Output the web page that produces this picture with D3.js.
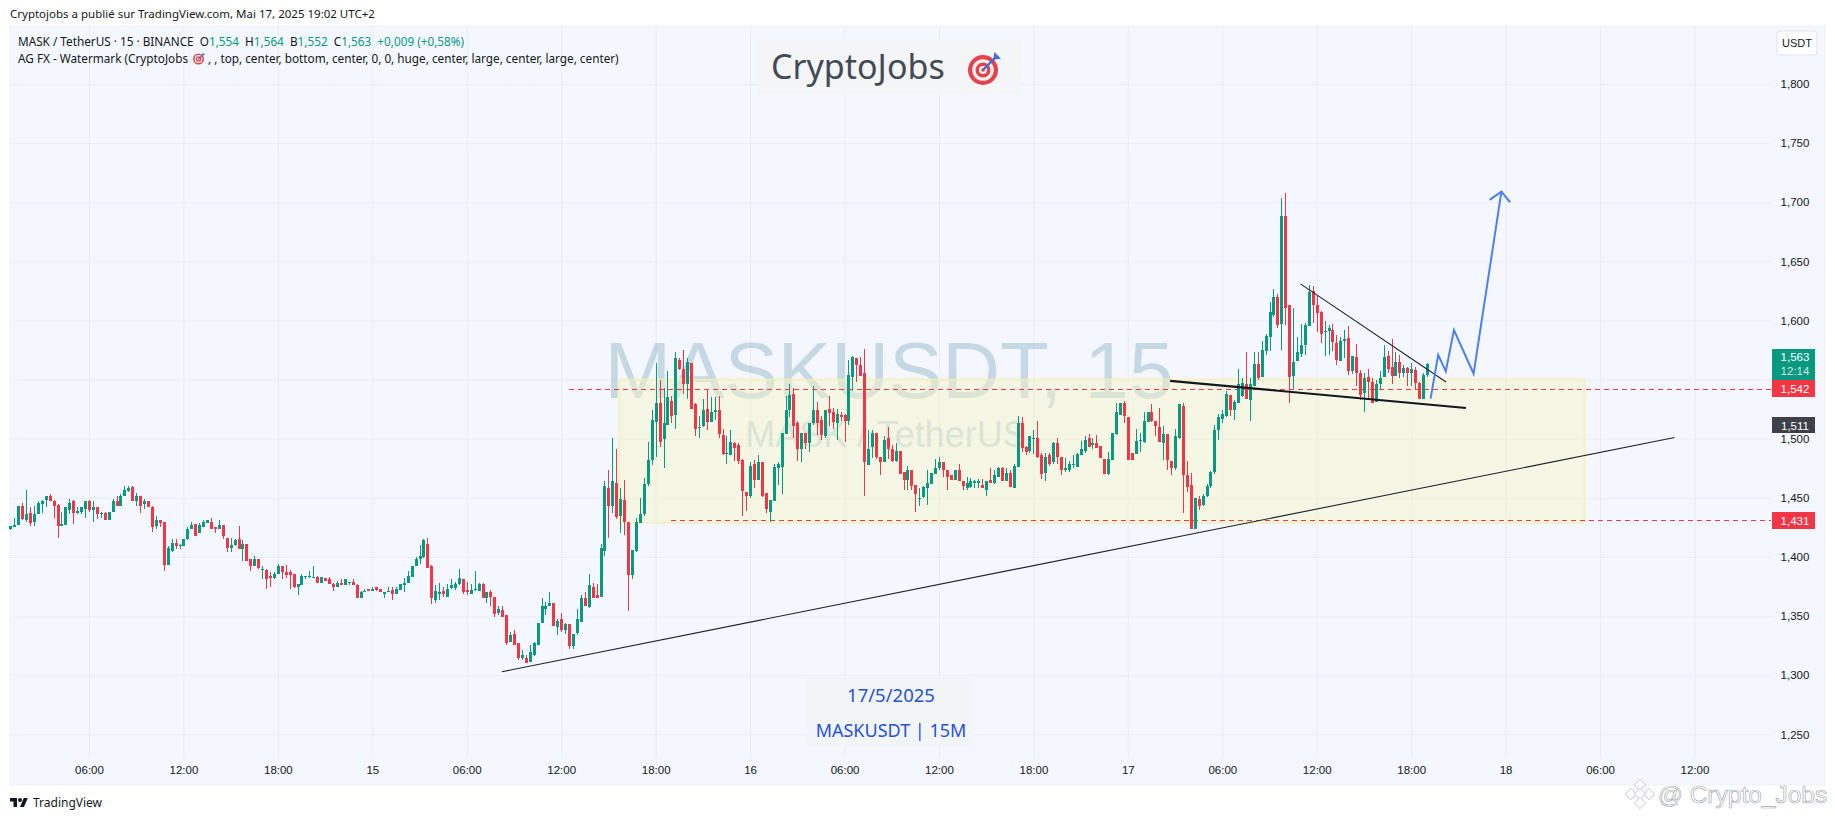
<!DOCTYPE html>
<html>
<head>
<meta charset="utf-8">
<script src="https://cdn.jsdelivr.net/npm/d3@7"></script>
<style>
  html, body { margin: 0; padding: 0; background: #fff; }
  svg { display: block; }
  text { font-family: "Noto Sans", sans-serif; fill: #131722; }
  .axis text { font-family: "Liberation Sans", sans-serif; font-size: 11.5px; }
  .axis .domain { display: none; }
</style>
</head>
<body>
<div id="chart"></div>
<script>
// 15 minute candles from 14 May 2025 01:00 (price x 1000)
var firstCandle = "2025-05-14T01:00Z";

var opens = [
  1424,1425,1427,1443,1431,1437,1430,1436,1445,1448, 1452,1447,1444,1426,1427,1440,1447,1437,1438,1441,
  1447,1440,1442,1436,1437,1431,1438,1447,1443,1452, 1456,1459,1447,1452,1445,1447,1442,1426,1431,1430,
  1393,1405,1412,1409,1409,1415,1424,1428,1420,1425, 1429,1430,1425,1424,1427,1416,1408,1410,1415,1407,
  1411,1398,1392,1398,1389,1389,1384,1382,1386,1392, 1387,1387,1386,1375,1376,1383,1383,1382,1383,1378,
  1382,1381,1377,1375,1378,1376,1378,1379,1376,1365, 1370,1373,1371,1375,1373,1369,1370,1372,1369,1372,
  1376,1378,1383,1392,1398,1400,1411,1392,1364,1369, 1371,1366,1374,1374,1377,1381,1372,1369,1372,1371,
  1377,1365,1370,1366,1353,1355,1351,1328,1335,1327, 1315,1315,1311,1317,1326,1344,1356,1359,1361,1341,
  1348,1338,1343,1325,1336,1345,1365,1358,1375,1368, 1366,1405,1458,1443,1463,1435,1448,1430,1385,1405,
  1429,1436,1462,1482,1514,1530,1500,1512,1532,1520, 1567,1559,1546,1564,1529,1509,1511,1525,1514,1523,
  1524,1503,1487,1486,1496,1495,1482,1455,1452,1479, 1465,1480,1454,1438,1447,1475,1476,1504,1524,1538,
  1513,1491,1505,1496,1513,1524,1516,1502,1525,1523, 1513,1520,1520,1515,1552,1568,1562,1556,1478,1493,
  1505,1485,1480,1501,1491,1481,1490,1472,1465,1474, 1461,1449,1451,1458,1462,1470,1475,1480,1474,1469,
  1465,1474,1464,1458,1459,1463,1463,1461,1457,1465, 1463,1468,1475,1464,1471,1458,1476,1513,1493,1490,
  1500,1501,1486,1471,1486,1480,1496,1485,1474,1474, 1478,1476,1486,1490,1501,1495,1496,1494,1483,1470,
  1482,1504,1520,1530,1518,1488,1487,1498,1497,1514, 1523,1515,1510,1496,1504,1481,1475,1501,1528,1469,
  1461,1424,1449,1444,1452,1460,1472,1507,1517,1519, 1537,1524,1530,1536,1546,1533,1545,1563,1552,1574,
  1586,1605,1620,1597,1688,1613,1553,1566,1572,1579, 1595,1625,1613,1607,1590,1591,1592,1581,1566,1583,
  1585,1557,1569,1556,1539,1552,1548,1531,1546,1552, 1570,1561,1553,1565,1556,1560,1556,1558,1547,1534,1554
];

var highs = [
  1426,1433,1443,1446,1457,1442,1443,1447,1448,1452, 1453,1448,1445,1438,1442,1449,1448,1442,1442,1447,
  1448,1447,1442,1438,1438,1438,1449,1452,1453,1460, 1460,1460,1454,1452,1449,1447,1443,1435,1431,1430,
  1409,1415,1415,1411,1415,1425,1430,1428,1429,1431, 1431,1433,1425,1431,1427,1416,1416,1415,1426,1414,
  1411,1398,1401,1398,1392,1390,1387,1387,1394,1392, 1393,1389,1386,1377,1386,1384,1388,1392,1384,1383,
  1382,1383,1378,1380,1381,1381,1379,1381,1377,1371, 1373,1373,1375,1375,1373,1370,1375,1375,1375,1377,
  1382,1388,1392,1400,1410,1415,1416,1393,1376,1378, 1375,1377,1381,1379,1390,1381,1379,1377,1388,1378,
  1378,1370,1372,1366,1359,1359,1351,1337,1338,1327, 1321,1317,1326,1328,1344,1365,1362,1370,1361,1348,
  1353,1344,1343,1335,1356,1368,1370,1386,1378,1377, 1411,1464,1474,1501,1491,1458,1465,1430,1406,1433,
  1450,1467,1497,1524,1564,1550,1543,1557,1536,1573, 1568,1575,1568,1564,1530,1519,1534,1542,1535,1535,
  1536,1508,1502,1507,1497,1496,1483,1455,1480,1482, 1486,1480,1454,1448,1479,1480,1505,1536,1546,1543,
  1515,1505,1505,1513,1545,1531,1519,1524,1536,1526, 1525,1523,1521,1567,1570,1568,1569,1576,1507,1507,
  1505,1485,1502,1510,1495,1496,1490,1472,1477,1474, 1461,1458,1460,1474,1471,1483,1485,1480,1474,1469,
  1474,1479,1464,1468,1467,1465,1466,1466,1464,1475, 1474,1476,1476,1475,1474,1479,1519,1518,1494,1502,
  1507,1515,1488,1488,1488,1497,1501,1485,1484,1481, 1486,1488,1498,1502,1504,1501,1503,1494,1483,1489,
  1505,1530,1530,1532,1518,1488,1508,1505,1523,1523, 1529,1515,1526,1511,1504,1481,1508,1529,1530,1481,
  1471,1450,1452,1453,1462,1473,1512,1521,1524,1540, 1537,1533,1559,1551,1573,1551,1573,1573,1583,1589,
  1616,1627,1622,1704,1708,1613,1611,1586,1597,1598, 1630,1629,1621,1608,1600,1596,1597,1588,1586,1592,
  1595,1570,1580,1558,1556,1559,1551,1550,1557,1579, 1574,1584,1573,1571,1562,1561,1564,1561,1548,1556,1564
];

var lows = [
  1423,1425,1427,1431,1430,1426,1426,1436,1437,1442, 1447,1433,1416,1426,1427,1436,1428,1436,1436,1433,
  1438,1430,1432,1433,1431,1431,1438,1443,1443,1452, 1455,1447,1443,1437,1441,1442,1421,1424,1425,1388,
  1393,1404,1407,1407,1409,1414,1424,1418,1420,1425, 1429,1424,1420,1424,1415,1404,1404,1409,1407,1397,
  1397,1388,1392,1390,1381,1373,1375,1381,1386,1381, 1382,1373,1374,1368,1376,1381,1382,1382,1378,1378,
  1380,1377,1371,1375,1376,1376,1376,1376,1365,1365, 1370,1371,1371,1371,1370,1365,1370,1364,1369,1372,
  1370,1378,1383,1392,1394,1399,1391,1360,1361,1364, 1366,1366,1373,1372,1376,1369,1368,1369,1371,1371,
  1365,1361,1359,1349,1351,1349,1326,1328,1326,1313, 1313,1310,1311,1316,1326,1344,1351,1359,1342,1334,
  1337,1335,1322,1322,1334,1345,1359,1357,1365,1365, 1366,1401,1416,1437,1432,1420,1419,1354,1381,1404,
  1429,1435,1460,1478,1485,1493,1475,1512,1513,1508, 1558,1538,1534,1525,1502,1501,1510,1507,1514,1516,
  1501,1486,1479,1486,1481,1479,1435,1439,1450,1458, 1465,1451,1437,1430,1447,1461,1453,1504,1518,1501,
  1481,1480,1491,1489,1512,1503,1499,1501,1511,1508, 1499,1515,1497,1512,1540,1548,1553,1452,1478,1484,
  1483,1469,1480,1483,1480,1480,1470,1457,1457,1457, 1438,1443,1450,1444,1462,1470,1474,1468,1457,1465,
  1465,1464,1457,1457,1458,1458,1458,1458,1452,1463, 1462,1468,1464,1464,1459,1458,1476,1489,1486,1488,
  1487,1484,1466,1464,1477,1479,1479,1469,1472,1472, 1475,1476,1486,1488,1493,1491,1492,1484,1470,1469,
  1482,1503,1520,1513,1482,1482,1487,1489,1496,1514, 1514,1502,1497,1482,1474,1469,1474,1500,1437,1455,
  1424,1424,1440,1443,1451,1458,1470,1499,1513,1518, 1519,1516,1530,1535,1534,1515,1545,1550,1552,1571,
  1574,1603,1594,1575,1596,1530,1542,1566,1569,1571, 1595,1598,1590,1581,1570,1571,1574,1562,1566,1568,
  1554,1555,1545,1533,1523,1534,1530,1531,1542,1552, 1556,1546,1553,1551,1552,1545,1545,1542,1534,1534,1552
];

var closes = [
  1426,1427,1443,1432,1436,1429,1436,1446,1447,1452, 1447,1443,1426,1428,1442,1446,1437,1439,1442,1447,
  1440,1442,1436,1437,1431,1438,1447,1443,1452,1457, 1458,1447,1452,1443,1447,1442,1425,1431,1429,1393,
  1408,1412,1409,1410,1415,1424,1427,1418,1427,1430, 1431,1424,1424,1427,1418,1408,1410,1414,1407,1411,
  1397,1392,1398,1391,1390,1381,1382,1386,1392,1387, 1385,1385,1375,1377,1384,1384,1384,1383,1378,1383,
  1380,1377,1375,1378,1376,1381,1379,1376,1365,1370, 1371,1371,1373,1372,1370,1370,1371,1369,1373,1377,
  1378,1384,1392,1398,1401,1414,1391,1365,1371,1370, 1369,1373,1376,1377,1382,1370,1370,1372,1373,1377,
  1365,1370,1366,1352,1356,1349,1327,1334,1326,1315, 1317,1310,1320,1327,1344,1359,1359,1361,1342,1346,
  1338,1343,1325,1335,1348,1365,1359,1376,1365,1365, 1408,1460,1443,1464,1434,1449,1430,1385,1406,1430,
  1436,1462,1482,1516,1530,1497,1513,1535,1519,1568, 1559,1546,1565,1525,1508,1510,1524,1514,1523,1524,
  1504,1487,1488,1497,1492,1481,1456,1452,1477,1465, 1480,1452,1441,1448,1476,1479,1505,1524,1537,1511,
  1491,1505,1496,1513,1524,1513,1503,1524,1522,1514, 1521,1518,1515,1554,1569,1562,1553,1480,1491,1505,
  1485,1480,1499,1491,1481,1490,1470,1465,1474,1460, 1453,1450,1459,1463,1471,1475,1480,1474,1468,1465,
  1474,1464,1460,1463,1464,1464,1464,1458,1464,1463, 1469,1475,1464,1471,1459,1477,1513,1492,1489,1502,
  1501,1485,1470,1485,1479,1496,1485,1474,1475,1479, 1479,1487,1491,1499,1493,1496,1492,1484,1470,1483,
  1505,1523,1530,1519,1482,1482,1498,1499,1515,1523, 1515,1511,1497,1504,1482,1475,1502,1529,1469,1459,
  1424,1450,1443,1452,1460,1472,1507,1518,1521,1538, 1524,1531,1546,1547,1534,1546,1563,1551,1575,1587,
  1607,1620,1596,1688,1611,1552,1565,1573,1579,1596, 1624,1613,1606,1589,1591,1594,1582,1567,1583,1584,
  1557,1570,1556,1537,1551,1548,1530,1546,1551,1569, 1559,1553,1565,1556,1560,1556,1559,1547,1534,1554,1563
];

var priceTicks = [1250, 1300, 1350, 1400, 1450, 1500, 1550, 1600, 1650, 1700, 1750, 1800];
var timeTicks = [
  "2025-05-14T06:00Z", "2025-05-14T12:00Z", "2025-05-14T18:00Z", "2025-05-15T00:00Z",
  "2025-05-15T06:00Z", "2025-05-15T12:00Z", "2025-05-15T18:00Z", "2025-05-16T00:00Z",
  "2025-05-16T06:00Z", "2025-05-16T12:00Z", "2025-05-16T18:00Z", "2025-05-17T00:00Z",
  "2025-05-17T06:00Z", "2025-05-17T12:00Z", "2025-05-17T18:00Z", "2025-05-18T00:00Z",
  "2025-05-18T06:00Z", "2025-05-18T12:00Z"
];

// Drawings on the chart: [time, price]
var supportLine = [["2025-05-15T08:14Z", 1303], ["2025-05-18T10:44Z", 1501]];
var wedgeTop = [["2025-05-17T10:58Z", 1631], ["2025-05-17T20:13Z", 1548]];
var wedgeBottom = [["2025-05-17T02:41Z", 1549], ["2025-05-17T21:29Z", 1526]];
var forecastPath = [
  ["2025-05-17T19:14Z", 1534], ["2025-05-17T19:43Z", 1571], ["2025-05-17T20:12Z", 1557],
  ["2025-05-17T20:43Z", 1592], ["2025-05-17T21:58Z", 1555], ["2025-05-17T23:44Z", 1709]
];
var forecastHead = [["2025-05-17T22:59Z", 1702], ["2025-05-17T23:44Z", 1709], ["2025-05-18T00:17Z", 1700]];
var rangeBox = [["2025-05-15T15:41Z", 1550], ["2025-05-18T05:02Z", 1429]];
var levelLines = [["2025-05-15T12:30Z", 1542], ["2025-05-15T19:00Z", 1431]];

var width = 1835, height = 820;
var pane = { left: 10, top: 26, right: 1825, bottom: 785, axisX: 1771, gridBottom: 757 };

var green = "#089981", red = "#f23645", blue = "#2851d6";

var svg = d3.select("#chart").append("svg")
  .attr("width", width)
  .attr("height", height);

var parse = function(s) { return new Date(s); };

var x = d3.scaleUtc()
  .domain([parse(timeTicks[0]), parse(timeTicks[timeTicks.length - 1])])
  .range([89, 1694.5]);

var y = d3.scaleLinear()
  .domain([1250, 1800])
  .range([734.4, 84]);

var line = d3.line()
  .x(function(d) { return x(parse(d[0])); })
  .y(function(d) { return y(d[1]); });

// Pane
svg.append("rect")
  .attr("x", pane.left).attr("y", pane.top)
  .attr("width", pane.right - pane.left).attr("height", pane.bottom - pane.top)
  .attr("fill", "#f4f7ff")
  .attr("stroke", "#e3e6ee")
  .attr("stroke-dasharray", "1 1");

// Grid and axes
var xAxis = svg.append("g")
  .attr("class", "axis")
  .attr("transform", "translate(0," + pane.gridBottom + ")")
  .call(d3.axisBottom(x)
    .tickValues(timeTicks.map(parse))
    .tickSizeInner(pane.top - pane.gridBottom)
    .tickSizeOuter(0)
    .tickPadding(0)
    .tickFormat(function(d) {
      return d.getUTCHours() === 0 ? d3.utcFormat("%-d")(d) : d3.utcFormat("%H:%M")(d);
    }));
xAxis.selectAll("line").attr("stroke", "#e9ecf6");
xAxis.selectAll("text").attr("y", 9).attr("dy", "0.71em").attr("fill", "#131722");

var yAxis = svg.append("g")
  .attr("class", "axis")
  .attr("transform", "translate(" + pane.axisX + ",0)")
  .call(d3.axisRight(y)
    .tickValues(priceTicks)
    .tickSizeInner(pane.left - pane.axisX)
    .tickSizeOuter(0)
    .tickFormat(d3.format(",")));
yAxis.selectAll("line").attr("stroke", "#e9ecf6");
yAxis.selectAll("text")
  .attr("x", 24)
  .attr("text-anchor", "middle")
  .attr("fill", "#131722");

// Symbol watermark
svg.append("text")
  .attr("x", 889).attr("y", 398)
  .attr("text-anchor", "middle")
  .style("font-family", "'Liberation Sans', sans-serif")
  .style("font-size", "80px")
  .style("fill", "#0f5f7a")
  .attr("opacity", 0.2)
  .text("MASKUSDT, 15");

svg.append("text")
  .attr("x", 886).attr("y", 447)
  .attr("text-anchor", "middle")
  .style("font-family", "'Liberation Sans', sans-serif")
  .style("font-size", "36px")
  .style("fill", "#0f5f7a")
  .attr("opacity", 0.2)
  .text("MASK / TetherUS");

// Range box
svg.append("rect")
  .attr("x", x(parse(rangeBox[0][0])))
  .attr("y", y(rangeBox[0][1]))
  .attr("width", x(parse(rangeBox[1][0])) - x(parse(rangeBox[0][0])))
  .attr("height", y(rangeBox[1][1]) - y(rangeBox[0][1]))
  .attr("fill", "rgb(246,243,195)")
  .attr("fill-opacity", 0.45)
  .attr("stroke", "rgb(246,240,180)")
  .attr("stroke-opacity", 0.75)
  .attr("stroke-width", 2);

// Dashed levels
svg.selectAll(".level")
  .data(levelLines)
  .enter().append("line")
  .attr("class", "level")
  .attr("x1", function(d) { return x(parse(d[0])); })
  .attr("x2", pane.axisX)
  .attr("y1", function(d) { return y(d[1]); })
  .attr("y2", function(d) { return y(d[1]); })
  .attr("stroke", red)
  .attr("stroke-dasharray", "5 4")
  .attr("shape-rendering", "crispEdges");

// Candles
var candles = closes.map(function(c, i) {
  return {
    time: d3.utcMinute.offset(parse(firstCandle), i * 15),
    open: opens[i], high: highs[i], low: lows[i], close: c
  };
});

var candleColor = function(d) { return d.close >= d.open ? green : red; };
var candleX = function(d) { return Math.round(x(d.time)); };

var candleGroup = svg.append("g")
  .attr("shape-rendering", "crispEdges");

candleGroup.selectAll(".wick")
  .data(candles)
  .enter().append("rect")
  .attr("class", "wick")
  .attr("x", function(d) { return candleX(d); })
  .attr("width", 1)
  .attr("y", function(d) { return y(d.high); })
  .attr("height", function(d) { return y(d.low) - y(d.high); })
  .attr("fill", candleColor);

candleGroup.selectAll(".body")
  .data(candles)
  .enter().append("rect")
  .attr("class", "body")
  .attr("x", function(d) { return candleX(d) - 1; })
  .attr("width", 3)
  .attr("y", function(d) { return y(Math.max(d.open, d.close)); })
  .attr("height", function(d) { return Math.max(1, Math.abs(y(d.open) - y(d.close))); })
  .attr("fill", candleColor);

// Trend lines
var drawPath = function(points, color, strokeWidth) {
  svg.append("path")
    .attr("d", line(points))
    .attr("fill", "none")
    .attr("stroke", color)
    .attr("stroke-width", strokeWidth);
};

drawPath(supportLine, "#1e222d", 1.1);
drawPath(wedgeTop, "#1e222d", 1.1);
drawPath(wedgeBottom, "#131722", 2.2);
drawPath(forecastPath, "#4f7ff0", 2);
drawPath(forecastHead, "#4f7ff0", 2);

// Price tags on the axis
var priceTags = [
  { price: 1542, color: red, top: 380, h: 17 },
  { price: 1511, color: "#3f4148", top: 417, h: 16 },
  { price: 1431, color: red, top: 512, h: 17 }
];

svg.append("rect")
  .attr("x", pane.axisX + 1).attr("y", 349)
  .attr("width", 43).attr("height", 31)
  .attr("fill", green);

svg.append("text")
  .attr("x", 1795).attr("y", 361)
  .attr("text-anchor", "middle")
  .style("font-family", "'Liberation Sans', sans-serif")
  .style("font-size", "11.5px").style("fill", "#fff")
  .text(d3.format(",")(closes[closes.length - 1]));

svg.append("text")
  .attr("x", 1795).attr("y", 375)
  .attr("text-anchor", "middle")
  .style("font-family", "'Liberation Sans', sans-serif")
  .style("font-size", "11.5px").style("fill", "#cfe6e1")
  .text("12:14");

priceTags.forEach(function(tag) {
  svg.append("rect")
    .attr("x", pane.axisX + 1).attr("y", tag.top)
    .attr("width", 43).attr("height", tag.h)
    .attr("fill", tag.color);
  svg.append("text")
    .attr("x", 1795).attr("y", tag.top + 12.5)
    .attr("text-anchor", "middle")
    .style("font-family", "'Liberation Sans', sans-serif")
    .style("font-size", "11.5px").style("fill", "#fff")
    .text(d3.format(",")(tag.price));
});

// USDT button
svg.append("rect")
  .attr("x", 1777).attr("y", 31)
  .attr("width", 40).attr("height", 24)
  .attr("rx", 3)
  .attr("fill", "#fff")
  .attr("stroke", "#e0e3eb");

svg.append("text")
  .attr("x", 1797).attr("y", 47)
  .attr("text-anchor", "middle")
  .style("font-family", "'Liberation Sans', sans-serif")
  .style("font-size", "11px")
  .text("USDT");

// Header and legend
svg.append("text")
  .attr("x", 10).attr("y", 18)
  .style("font-size", "11.5px")
  .text("Cryptojobs a publié sur TradingView.com, Mai 17, 2025 19:02 UTC+2");

var legend = svg.append("text")
  .attr("x", 18).attr("y", 46)
  .style("font-size", "11.75px")
  .attr("xml:space", "preserve");

[
  ["MASK / TetherUS · 15 · BINANCE  O", "#131722"], ["1,554", green],
  ["  H", "#131722"], ["1,564", green],
  ["  B", "#131722"], ["1,552", green],
  ["  C", "#131722"], ["1,563", green],
  ["  +0,009 (+0,58%)", green]
].forEach(function(part) {
  legend.append("tspan").style("fill", part[1]).text(part[0]);
});

svg.append("text")
  .attr("x", 18).attr("y", 63)
  .style("font-size", "11.75px")
  .text("AG FX - Watermark (CryptoJobs");

svg.append("text")
  .attr("x", 208).attr("y", 63)
  .style("font-size", "11.75px")
  .text(", , top, center, bottom, center, 0, 0, huge, center, large, center, large, center)");

// Target emoji
var drawTarget = function(cx, cy, r) {
  var target = svg.append("g").attr("transform", "translate(" + cx + "," + cy + ")");
  [[1, "#e5424d"], [0.72, "#f6f1ea"], [0.5, "#e5424d"], [0.27, "#f6f1ea"], [0.12, "#e5424d"]].forEach(function(ring) {
    target.append("circle").attr("r", r * ring[0]).attr("fill", ring[1]);
  });
  target.append("line")
    .attr("x1", 0).attr("y1", 0)
    .attr("x2", r * 0.85).attr("y2", -r * 0.85)
    .attr("stroke", "#3f6fd8")
    .attr("stroke-width", Math.max(1.2, r * 0.16));
  target.append("path")
    .attr("d", "M" + r * 0.7 + "," + -r * 0.7 + "L" + r * 0.75 + "," + -r * 1.2 + "L" + r * 1.2 + "," + -r * 0.75 + "Z")
    .attr("fill", "#3f6fd8");
};

drawTarget(198.5, 59, 5.5);

// Top title box
svg.append("rect")
  .attr("x", 758).attr("y", 39)
  .attr("width", 263).attr("height", 55)
  .attr("fill", "#f3f5f7");

svg.append("text")
  .attr("x", 771).attr("y", 79)
  .style("font-size", "34px")
  .style("fill", "#434a56")
  .text("CryptoJobs");

drawTarget(983, 70, 15);

// Date box
svg.append("rect")
  .attr("x", 807).attr("y", 678)
  .attr("width", 165).attr("height", 69)
  .attr("fill", "#f2f5f7");

svg.append("text")
  .attr("x", 891).attr("y", 702)
  .attr("text-anchor", "middle")
  .style("font-size", "18.5px")
  .style("fill", blue)
  .text("17/5/2025");

svg.append("text")
  .attr("x", 891).attr("y", 737)
  .attr("text-anchor", "middle")
  .style("font-size", "18px")
  .style("fill", blue)
  .text("MASKUSDT | 15M");

// TradingView mark
svg.append("path")
  .attr("transform", "translate(10,796) scale(0.5)")
  .attr("d", "M14 22H7V11H0V4h14v18zM28 22h-8l7.5-18h8L28 22z")
  .attr("fill", "#131722");

svg.append("circle")
  .attr("transform", "translate(10,796) scale(0.5)")
  .attr("cx", 20).attr("cy", 8).attr("r", 4)
  .attr("fill", "#131722");

svg.append("text")
  .attr("x", 33).attr("y", 807)
  .style("font-size", "12px")
  .text("TradingView");

// Publisher stamp
var stamp = svg.append("g")
  .attr("fill", "#fff")
  .attr("stroke", "#b9bcc2")
  .attr("stroke-width", 0.8);

[[1640, 785, 4], [1631, 794, 4], [1649, 794, 4], [1640, 794, 4], [1640, 803, 4]].forEach(function(d) {
  stamp.append("rect")
    .attr("x", -d[2]).attr("y", -d[2])
    .attr("width", d[2] * 2).attr("height", d[2] * 2)
    .attr("transform", "translate(" + d[0] + "," + d[1] + ") rotate(45)");
});

svg.append("text")
  .attr("x", 1658).attr("y", 803)
  .style("font-family", "'Liberation Sans', sans-serif")
  .style("font-size", "24.5px")
  .style("fill", "#fff")
  .style("stroke", "#a9acb3")
  .style("stroke-width", 0.7)
  .text("@ Crypto_Jobs");
</script>
</body>
</html>
